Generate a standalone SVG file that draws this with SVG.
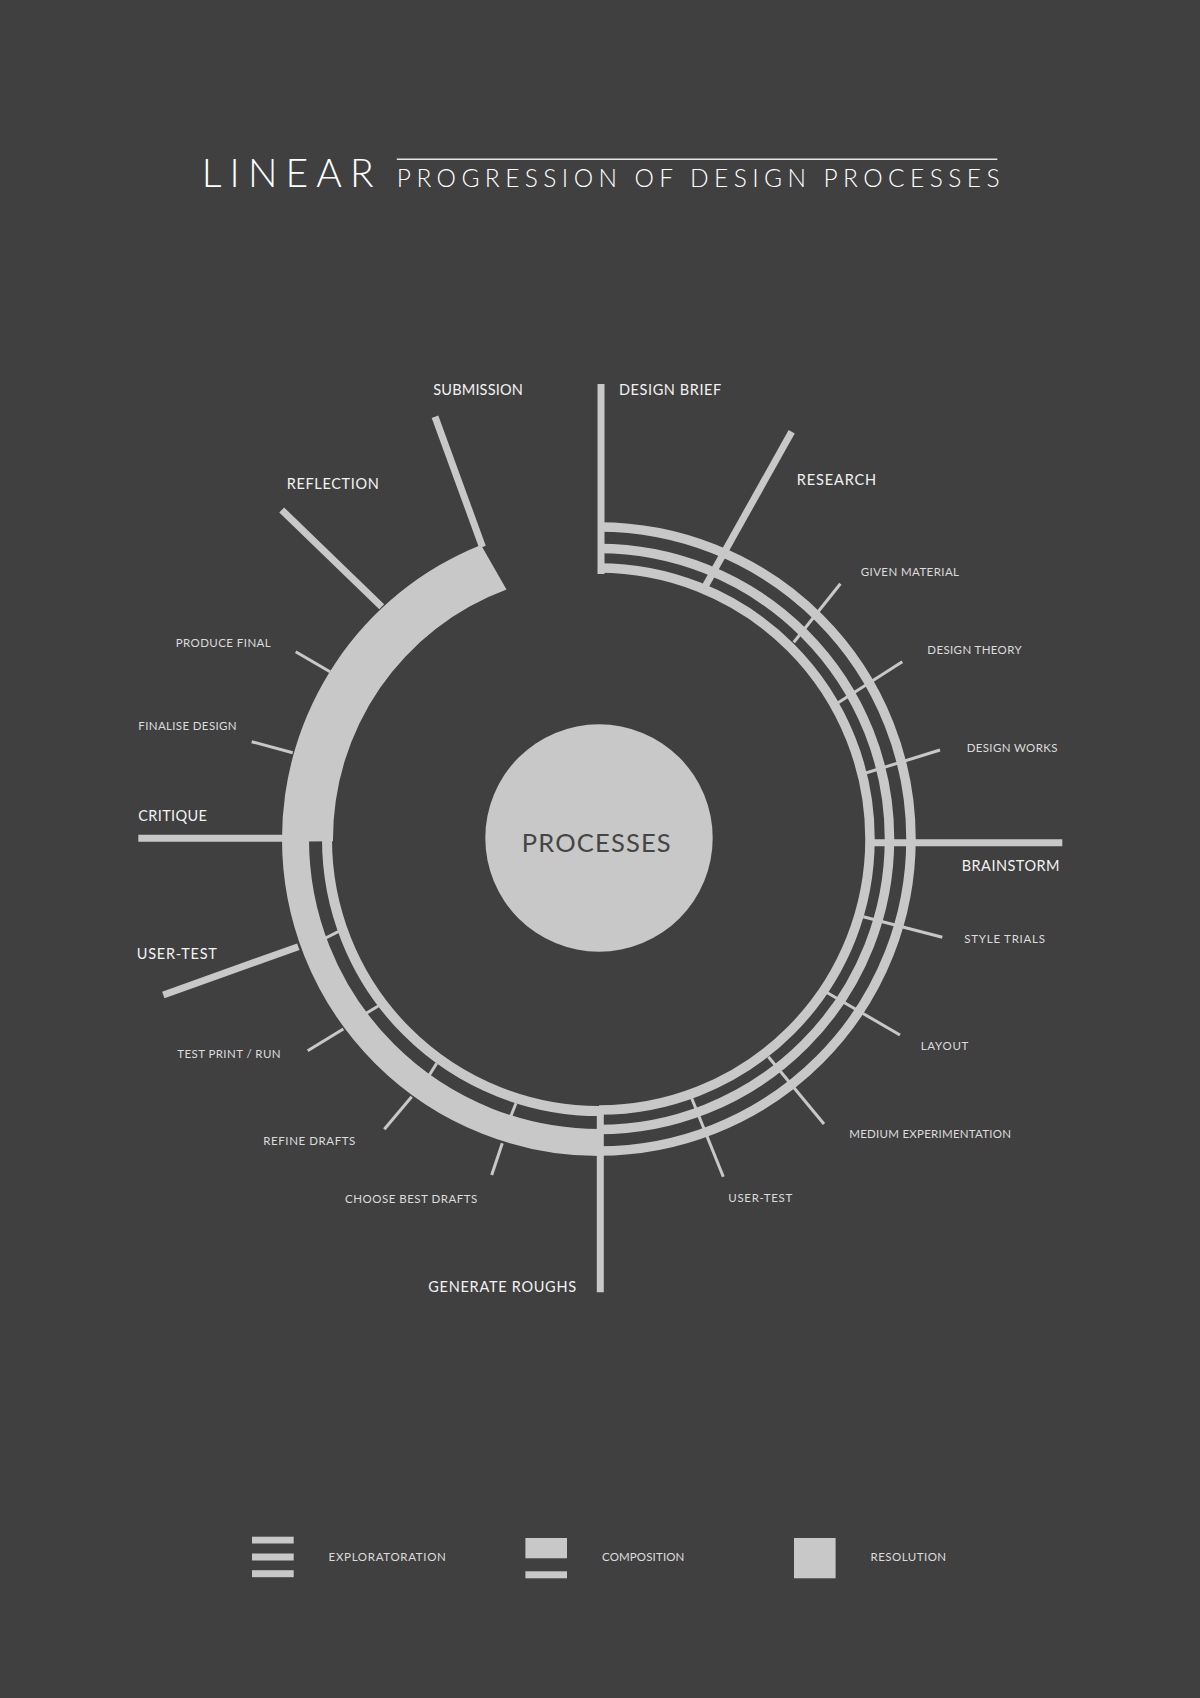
<svg xmlns="http://www.w3.org/2000/svg" width="1200" height="1698" viewBox="0 0 1200 1698">
<style>
.bg{fill:#404040}
.ring{fill:none;stroke:#c8c8c8;stroke-linecap:butt}
.fill{fill:#c8c8c8}
.tk{stroke:#c8c8c8;stroke-width:3;stroke-linecap:butt}
.tkb{stroke:#c8c8c8;stroke-width:7;stroke-linecap:butt}
.major{font-family:Lato,"Liberation Sans",sans-serif;font-size:14.5px;fill:#f2f2f2;letter-spacing:0.5px}
.minor{font-family:Lato,"Liberation Sans",sans-serif;font-size:11.5px;fill:#dcdcdc}
.title{font-family:Lato,"Liberation Sans",sans-serif;font-weight:300;fill:#ffffff}
</style>
<rect class="bg" x="0" y="0" width="1200" height="1698"/>

<g id="title">
<text class="title" x="201.7" y="187" font-size="39" textLength="172" lengthAdjust="spacing">LINEAR</text>
<line x1="396.8" y1="159.3" x2="997.3" y2="159.3" stroke="#e6e6e6" stroke-width="1.5"/>
<text class="title" x="396.8" y="186.7" font-size="24.5" textLength="602.7" lengthAdjust="spacing">PROGRESSION OF DESIGN PROCESSES</text>
</g>

<g id="rings">
<path class="ring" stroke-width="9.5" d="M 599 527 A 312 312 0 0 1 911 839 A 312 312 0 0 1 599 1151"/>
<path class="ring" stroke-width="9.5" d="M 599 548.5 A 290.5 290.5 0 0 1 889.5 839 A 290.5 290.5 0 0 1 599 1129.5"/>
<path class="ring" stroke-width="9.5" d="M 599 568 A 271 271 0 0 1 870 839 A 271 271 0 0 1 599 1110"/>
<path class="ring" stroke-width="27" d="M 599 1142.5 A 303.5 303.5 0 0 1 295.5 839"/>
<path class="ring" stroke-width="10" d="M 599 1111 A 272 272 0 0 1 327 839"/>
<path class="fill" d="M 282 841.8 A 317 317 0 0 1 481 544.9 L 506.5 589.6 A 266 266 0 0 0 333 841.3 Z"/>
</g>

<g id="connectors">
<line class="tkb" x1="601" y1="384" x2="601" y2="574" stroke-width="6"/>
<line class="tkb" x1="791.7" y1="431.7" x2="705" y2="586.7"/>
<line class="tk" x1="840.4" y1="583.7" x2="793.8" y2="642.2"/>
<line class="tk" x1="902.3" y1="661.7" x2="837.3" y2="703.3"/>
<line class="tk" x1="940" y1="750" x2="865" y2="773.3"/>
<line class="tkb" x1="867" y1="842.8" x2="1062.3" y2="842.8" stroke-width="6.7"/>
<line class="tk" x1="942.3" y1="937.3" x2="863.3" y2="916.7"/>
<line class="tk" x1="900" y1="1035" x2="827.3" y2="992.7"/>
<line class="tk" x1="824" y1="1124" x2="768.3" y2="1056.7"/>
<line class="tk" x1="723.3" y1="1176.7" x2="691.7" y2="1098.3"/>
<line class="tkb" x1="600.3" y1="1106" x2="600.3" y2="1292.3"/>
<line class="tk" x1="491.7" y1="1175" x2="502.3" y2="1143.3"/>
<line class="tk" x1="510" y1="1118.3" x2="516" y2="1103.3"/>
<line class="tk" x1="384.3" y1="1129.3" x2="411.7" y2="1096.7"/>
<line class="tk" x1="428.3" y1="1076.7" x2="436.7" y2="1063.3"/>
<line class="tk" x1="307.7" y1="1050.7" x2="343.3" y2="1029"/>
<line class="tk" x1="363.3" y1="1015" x2="378.3" y2="1006"/>
<line class="tkb" x1="163.3" y1="995" x2="298.3" y2="946.7"/>
<line class="tk" x1="321.7" y1="940" x2="338.3" y2="931.7" stroke-width="3.5"/>
<line class="tkb" x1="138.3" y1="838.3" x2="284" y2="838.3" stroke-width="6.7"/>
<line class="tk" x1="251.7" y1="741.7" x2="292.7" y2="752.7"/>
<line class="tk" x1="295.7" y1="651.7" x2="330" y2="671.7"/>
<line class="tkb" x1="281.7" y1="510" x2="381.7" y2="606.7"/>
<line class="tkb" x1="435" y1="416.7" x2="482.5" y2="547"/>
</g>

<g id="node-design-brief"><text class="major" x="619" y="395" textLength="102.7" lengthAdjust="spacing">DESIGN BRIEF</text></g>
<g id="node-research"><text class="major" x="796.7" y="485" textLength="80" lengthAdjust="spacing">RESEARCH</text></g>
<g id="node-given-material"><text class="minor" x="860.7" y="575.7" textLength="98.3" lengthAdjust="spacing">GIVEN MATERIAL</text></g>
<g id="node-design-theory"><text class="minor" x="927.3" y="654.3" textLength="94.3" lengthAdjust="spacing">DESIGN THEORY</text></g>
<g id="node-design-works"><text class="minor" x="966.7" y="752.3" textLength="90.7" lengthAdjust="spacing">DESIGN WORKS</text></g>
<g id="node-brainstorm"><text class="major" x="961.7" y="870.7" textLength="98.3" lengthAdjust="spacing">BRAINSTORM</text></g>
<g id="node-style-trials"><text class="minor" x="964.3" y="943.3" textLength="80.7" lengthAdjust="spacing">STYLE TRIALS</text></g>
<g id="node-layout"><text class="minor" x="920.7" y="1050" textLength="47.7" lengthAdjust="spacing">LAYOUT</text></g>
<g id="node-medium-experimentation"><text class="minor" x="849.3" y="1138.3" textLength="161.7" lengthAdjust="spacing">MEDIUM EXPERIMENTATION</text></g>
<g id="node-user-test-1"><text class="minor" x="728.3" y="1202.3" textLength="64" lengthAdjust="spacing">USER-TEST</text></g>
<g id="node-generate-roughs"><text class="major" x="428.3" y="1291.7" textLength="148.3" lengthAdjust="spacing">GENERATE ROUGHS</text></g>
<g id="node-choose-best-drafts"><text class="minor" x="345" y="1202.7" textLength="132.3" lengthAdjust="spacing">CHOOSE BEST DRAFTS</text></g>
<g id="node-refine-drafts"><text class="minor" x="263.3" y="1145" textLength="92" lengthAdjust="spacing">REFINE DRAFTS</text></g>
<g id="node-test-print"><text class="minor" x="177.3" y="1057.7" textLength="103.3" lengthAdjust="spacing">TEST PRINT / RUN</text></g>
<g id="node-user-test-2"><text class="major" x="136.7" y="959" textLength="80.7" lengthAdjust="spacing">USER-TEST</text></g>
<g id="node-critique"><text class="major" x="138.3" y="821" textLength="69" lengthAdjust="spacing">CRITIQUE</text></g>
<g id="node-finalise-design"><text class="minor" x="138.3" y="730" textLength="98.3" lengthAdjust="spacing">FINALISE DESIGN</text></g>
<g id="node-produce-final"><text class="minor" x="175.7" y="646.7" textLength="95" lengthAdjust="spacing">PRODUCE FINAL</text></g>
<g id="node-reflection"><text class="major" x="286.7" y="489" textLength="92.7" lengthAdjust="spacing">REFLECTION</text></g>
<g id="node-submission"><text class="major" x="433.3" y="395" textLength="90" lengthAdjust="spacing">SUBMISSION</text></g>

<g id="node-processes">
<circle class="fill" cx="599" cy="838" r="113.7"/>
<text x="521.7" y="851.7" font-family="Lato,'Liberation Sans',sans-serif" font-size="25.5" fill="#454545" textLength="149" lengthAdjust="spacing">PROCESSES</text>
</g>

<g id="legend">
<rect class="fill" x="252" y="1536.7" width="41.7" height="6.8"/>
<rect class="fill" x="252" y="1553.5" width="41.7" height="7"/>
<rect class="fill" x="252" y="1570.2" width="41.7" height="7"/>
<text class="minor" x="328.6" y="1560.7" textLength="117.3" lengthAdjust="spacing">EXPLORATORATION</text>
<rect class="fill" x="525.4" y="1538" width="41.6" height="20.3"/>
<rect class="fill" x="525.4" y="1571.3" width="41.6" height="7"/>
<text class="minor" x="602" y="1560.7" textLength="82.4" lengthAdjust="spacing">COMPOSITION</text>
<rect class="fill" x="794" y="1538" width="41.6" height="40.3"/>
<text class="minor" x="870.5" y="1560.7" textLength="75.6" lengthAdjust="spacing">RESOLUTION</text>
</g>
</svg>
